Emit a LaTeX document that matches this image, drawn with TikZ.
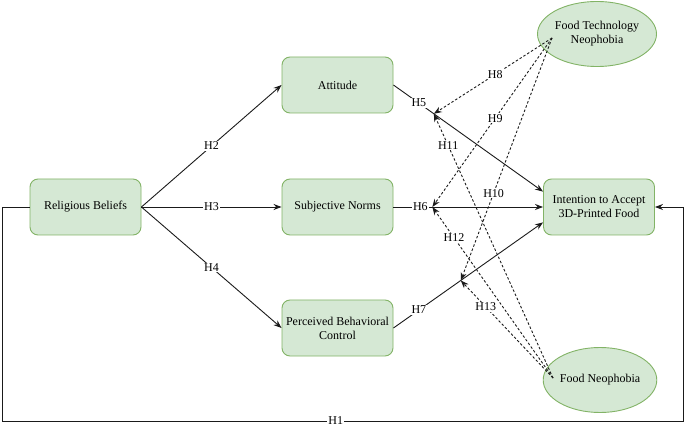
\documentclass[tikz,border=0pt]{standalone}
\usepackage{fontspec}
\setmainfont{Liberation Serif}
\usetikzlibrary{arrows.meta,calc,shapes.geometric}
\definecolor{boxfill}{HTML}{D5E8D4}
\definecolor{boxdraw}{HTML}{82B366}
\definecolor{ln}{HTML}{1A1A1A}
\begin{document}
\begin{tikzpicture}[x=1pt,y=-1pt,
  font=\fontsize{12}{14}\selectfont,
  box/.style={draw=boxdraw,fill=boxfill,rounded corners=8pt,minimum width=111pt,minimum height=56pt,align=center,line width=0.9pt,inner sep=1pt},
  oval/.style={ellipse,draw=boxdraw,fill=boxfill,minimum width=92pt,minimum height=65pt,align=center,line width=0.9pt,inner sep=0pt},
  link/.style={draw=ln,line width=0.9pt,-{Stealth[length=8pt,width=6pt]}},
  dlink/.style={draw=ln,line width=0.9pt,dashed,dash pattern=on 2.5pt off 2pt,-{Stealth[length=8pt,width=6pt]}},
  lab/.style={fill=white,inner sep=1pt}]
\useasboundingbox (0,0) rectangle (685,427);
\node[box] (rb) at (85.5,207) {Religious Beliefs};
\node[box] (att) at (337.5,85) {Attitude};
\node[box] (sn) at (337.5,207) {Subjective Norms};
\node[box] (pbc) at (337.5,328) {Perceived Behavioral\\Control};
\node[box] (int) at (599,207) {Intention to Accept\\3D-Printed Food};
\node[oval] (ftn) at (597,34) {Food Technology\\Neophobia};
\node[oval] (fn) at (600,380) {Food Neophobia};
\coordinate (ftnout) at (552,38);
\coordinate (fnout) at (553,378);
% Religious beliefs paths
\draw[link] (rb.east) -- node[lab,pos=0.5]{H2} (att.west);
\draw[link] (rb.east) -- node[lab,pos=0.5]{H3} (sn.west);
\draw[link] (rb.east) -- node[lab,pos=0.5]{H4} (pbc.west);
% H1
\coordinate (c1) at (2,207);
\coordinate (c2) at (2,421);
\coordinate (c3) at (683,421);
\coordinate (c4) at (683,207);
\draw[link] (rb.west) -- (c1) -- (c2) -- node[lab,pos=0.49]{H1} (c3) -- (c4) -- (int.east);
% TPB to intention
\draw[link] (att.east) -- node[lab,pos=0.17]{H5} coordinate[pos=0.27] (p5) ($(int.north west)!0.23!(int.south west)$);
\draw[link] (sn.east) -- node[lab,pos=0.18]{H6} coordinate[pos=0.26] (p6) (int.west);
\draw[link] (pbc.east) -- node[lab,pos=0.17]{H7} coordinate[pos=0.45] (p7) ($(int.north west)!0.77!(int.south west)$);
% moderators
\draw[dlink] (ftnout) -- node[lab,pos=0.48]{H8} (p5);
\draw[dlink] (ftnout) -- node[lab,pos=0.475]{H9} (p6);
\draw[dlink] (ftnout) -- node[lab,pos=0.64]{H10} (p7);
\draw[dlink] (fnout) -- node[lab,pos=0.88]{H11} (p5);
\draw[dlink] (fnout) -- node[lab,pos=0.82]{H12} (p6);
\draw[dlink] (fnout) -- node[lab,pos=0.73]{H13} (p7);
\end{tikzpicture}
\end{document}
